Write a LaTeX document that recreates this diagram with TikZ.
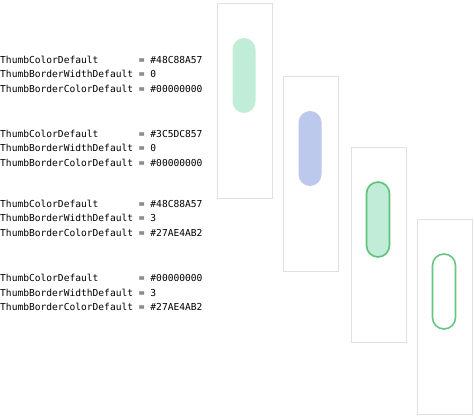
\documentclass[tikz,border=0pt]{standalone}
\usepackage{fontspec}
\setmonofont{DejaVu Sans Mono}
\begin{document}
\begin{tikzpicture}[x=1pt,y=-1pt,
  frame/.style={draw=black!12,line width=0.7pt,minimum width=55pt,minimum height=195pt,anchor=north west,inner sep=0pt},
  thumb/.style={rounded corners=11.5pt,minimum width=23pt,minimum height=75pt,inner sep=0pt},
  info/.style={anchor=west,inner sep=0pt,font=\ttfamily\fontsize{9.6}{14.5}\selectfont}]
\useasboundingbox (0,0) rectangle (474,417);
\definecolor{tgreen}{HTML}{48C88A}
\definecolor{tblue}{HTML}{3C5DC8}
\definecolor{tborder}{HTML}{27AE4A}
\node[frame] (b1) at (217,3) {};
\node[frame] (b2) at (283,76) {};
\node[frame] (b3) at (351,147) {};
\node[frame] (b4) at (417,219) {};
\node[thumb,fill=tgreen,fill opacity=0.34] (t1) at ([shift={(27,72.5)}]b1.north west) {};
\node[thumb,fill=tblue,fill opacity=0.34] (t2) at ([shift={(27,72.5)}]b2.north west) {};
\node[thumb,fill=tgreen,fill opacity=0.34] (t3f) at ([shift={(27,72.5)}]b3.north west) {};
\node[thumb,draw=tborder,draw opacity=0.7,line width=1.6pt] (t3) at ([shift={(27,72.5)}]b3.north west) {};
\node[thumb,draw=tborder,draw opacity=0.7,line width=1.6pt] (t4) at ([shift={(27,72.5)}]b4.north west) {};
\node[info] (g1) at (0,75) {\begin{tabular}{@{}l@{\ =\ }l@{}}ThumbColorDefault & \#48C88A57\\ThumbBorderWidthDefault & 0\\ThumbBorderColorDefault & \#00000000\end{tabular}};
\node[info] (g2) at (0,149) {\begin{tabular}{@{}l@{\ =\ }l@{}}ThumbColorDefault & \#3C5DC857\\ThumbBorderWidthDefault & 0\\ThumbBorderColorDefault & \#00000000\end{tabular}};
\node[info] (g3) at (0,219) {\begin{tabular}{@{}l@{\ =\ }l@{}}ThumbColorDefault & \#48C88A57\\ThumbBorderWidthDefault & 3\\ThumbBorderColorDefault & \#27AE4AB2\end{tabular}};
\node[info] (g4) at (0,293.5) {\begin{tabular}{@{}l@{\ =\ }l@{}}ThumbColorDefault & \#00000000\\ThumbBorderWidthDefault & 3\\ThumbBorderColorDefault & \#27AE4AB2\end{tabular}};
\end{tikzpicture}
\end{document}
